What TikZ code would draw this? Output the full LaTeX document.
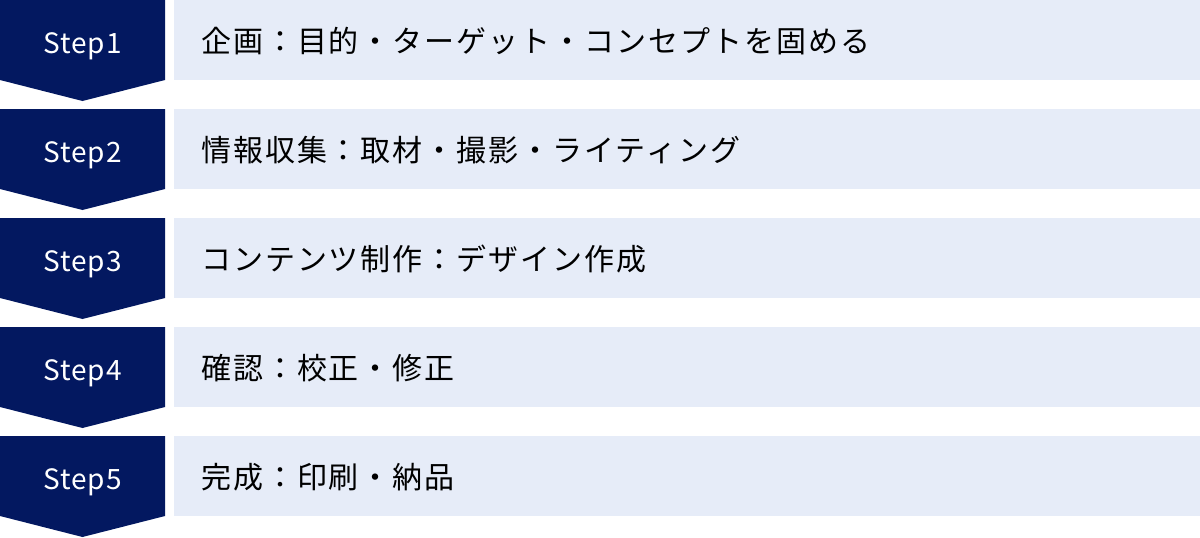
\documentclass[tikz,border=0pt]{standalone}
\usepackage{fontspec}
\setmainfont{Noto Sans CJK JP}
\newfontfamily\stepfont[LetterSpace=4]{Noto Sans CJK JP}
\newfontfamily\taskfont[LetterSpace=6.5]{Noto Sans CJK JP}
\definecolor{stepnavy}{RGB}{3,24,96}
\definecolor{stepbg}{RGB}{230,236,248}

\begin{document}
\begin{tikzpicture}[x=1pt, y=-1pt,
    steplabel/.style={text=white, anchor=base, inner sep=0pt, font=\stepfont\fontsize{28}{34}\selectfont},
    steptext/.style={anchor=base west, inner sep=0pt, font=\taskfont\fontsize{30}{36}\selectfont}]
\useasboundingbox (0,0) rectangle (1200,538);
\foreach \i/\txt in {1/{企画：目的・ターゲット・コンセプトを固める},
                     2/{情報収集：取材・撮影・ライティング},
                     3/{コンテンツ制作：デザイン作成},
                     4/{確認：校正・修正},
                     5/{完成：印刷・納品}}{
  \pgfmathsetmacro{\rowy}{(\i-1)*109}
  % arrow box and text band
  \fill[stepnavy] (0,\rowy) -- ++(165,0) -- ++(0,80) -- ++(-82.5,21) -- ++(-82.5,-21) -- cycle;
  \fill[stepbg] (174,\rowy) rectangle (1200,\rowy+80);
  \node[steplabel] (step\i) at (82.5,\rowy+53) {Step\i};
  \node[steptext] (task\i) at (201,\rowy+52) {\txt};
}
\end{tikzpicture}
\end{document}
